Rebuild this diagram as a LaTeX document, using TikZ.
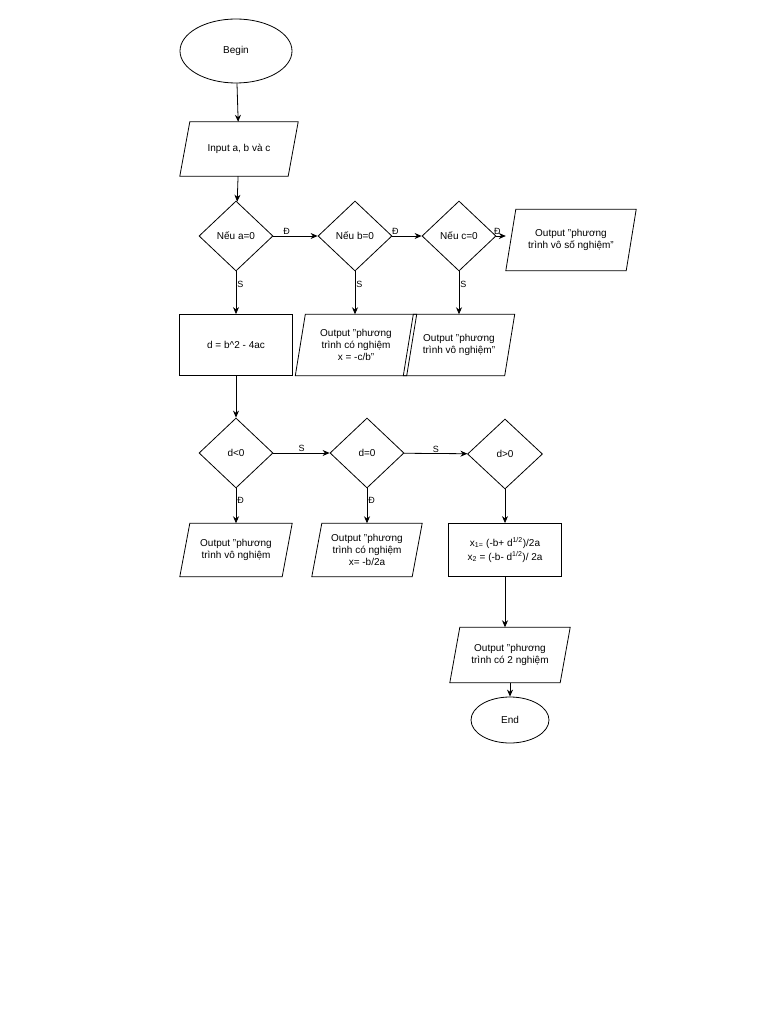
\documentclass[tikz,border=0pt]{standalone}
\usepackage{fontspec}
\setmainfont{Liberation Sans}
\usetikzlibrary{shapes.geometric,arrows.meta}
\begin{document}
\begin{tikzpicture}[x=1pt,y=-1pt,
  every node/.style={font=\fontsize{10}{12}\selectfont, align=center, inner sep=1pt},
  term/.style={ellipse, draw, thick},
  dec/.style={diamond, draw, thick, minimum width=74pt, minimum height=70pt, inner sep=0pt},
  proc/.style={rectangle, draw, thick},
  io/.style={rectangle},
  lab/.style={font=\fontsize{9}{11}\selectfont},
  arr/.style={-{Stealth[length=7pt,width=6pt]}, thick}]
\useasboundingbox (0,0) rectangle (768,1024);
\newcommand{\para}[1]{\draw[thick] ([xshift=10pt]#1.north west) -- (#1.north east) -- ([xshift=-10pt]#1.south east) -- (#1.south west) -- cycle;}
\node[term, minimum width=112pt, minimum height=64pt] (begin) at (236,51) {Begin};
\node[io, minimum width=118pt, minimum height=54pt] (inp) at (239,149) {Input a, b và c}; \para{inp}
\node[dec] (da) at (236,236) {Nếu a=0};
\node[dec] (db) at (355,236) {Nếu b=0};
\node[dec] (dc) at (459,236) {Nếu c=0};
\node[io, minimum width=130pt, minimum height=61pt] (o1) at (571,240) {Output "phương\\ trình vô số nghiệm"}; \para{o1}
\node[proc, minimum width=113pt, minimum height=61pt] (dd) at (236,345) {d = b\^{}2 - 4ac};
\node[io, minimum width=121pt, minimum height=61pt] (o2) at (356,345) {Output "phương\\ trình có nghiệm\\ x = -c/b"}; \para{o2}
\node[io, minimum width=111pt, minimum height=61pt] (o3) at (459,345) {Output "phương\\ trình vô nghiệm"}; \para{o3}
\node[dec] (d1) at (236,453) {d<0};
\node[dec] (d2) at (367,453) {d=0};
\node[dec, minimum width=75pt] (d3) at (505,454) {d>0};
\node[io, minimum width=112pt, minimum height=53pt] (o4) at (236,550) {Output "phương\\ trình vô nghiệm}; \para{o4}
\node[io, minimum width=110pt, minimum height=53pt] (o5) at (367,550) {Output "phương\\ trình có nghiệm\\ x= -b/2a}; \para{o5}
\node[proc, minimum width=113pt, minimum height=53pt] (bx) at (505,550) {x\textsubscript{1=} (-b+ d\textsuperscript{1/2})/2a\\[2pt] x\textsubscript{2} = (-b- d\textsuperscript{1/2})/ 2a};
\node[io, minimum width=120pt, minimum height=55pt] (o6) at (510,655) {Output "phương\\ trình có 2 nghiệm}; \para{o6}
\node[term, minimum width=78pt, minimum height=46pt] (end) at (510,720) {End};
\draw[arr] (begin) -- (inp);
\draw[arr] (inp) -- (da);
\draw[arr] (da) -- node[lab, above, pos=0.3] {Đ} (db);
\draw[arr] (db) -- node[lab, above, pos=0.1] {Đ} (dc);
\draw[arr] (dc) -- node[lab, above, pos=0.1] {Đ} (o1.west |- dc);
\draw[arr] (da) -- node[lab, right, pos=0.3] {S} (dd);
\draw[arr] (db) -- node[lab, right, pos=0.3] {S} (db |- o2.north);
\draw[arr] (dc) -- node[lab, right, pos=0.3] {S} (dc |- o3.north);
\draw[arr] (dd) -- (d1);
\draw[arr] (d1) -- node[lab, above, pos=0.5] {S} (d2);
\draw[arr] (d2) -- node[lab, above, pos=0.5] {S} (d3);
\draw[arr] (d1) -- node[lab, right, pos=0.35] {Đ} (o4);
\draw[arr] (d2) -- node[lab, right, pos=0.35] {Đ} (o5);
\draw[arr] (d3) -- (bx);
\draw[arr] (bx) -- (bx |- o6.north);
\draw[arr] (o6) -- (end);
\end{tikzpicture}
\end{document}
